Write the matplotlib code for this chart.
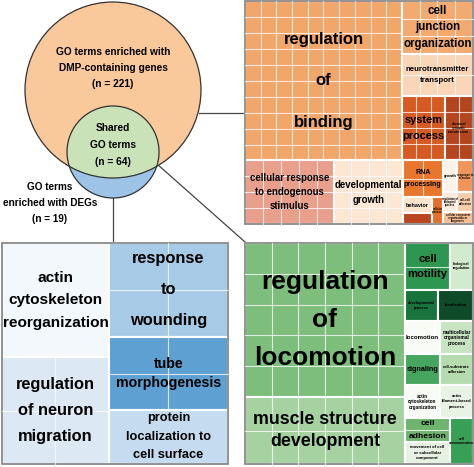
import matplotlib
matplotlib.use("Agg")
import matplotlib.pyplot as plt
from matplotlib.patches import Circle, Rectangle

plt.rcParams['font.family'] = ['Liberation Sans', 'DejaVu Sans']

# ---- Venn counts ----
venn_dmp_label = 'GO terms enriched with\nDMP-containing genes\n(n = 221)'
venn_shared_label = 'Shared\nGO terms\n(n = 64)'
venn_deg_label = 'GO terms\nenriched with DEGs\n(n = 19)'

# ---- orange treemap (DMP-only terms) ----
orange_terms = ['regulation\nof\nbinding', 'cell\njunction\norganization',
                'neurotransmitter\ntransport', 'system\nprocess',
                'chemical\nsynaptic\ntransmission',
                'cellular response\nto endogenous\nstimulus',
                'developmental\ngrowth', 'RNA\nprocessing', 'behavior', '',
                'cellular\nprocess', 'growth', 'response to\nstimulus',
                'regulation of\nbiological\nprocess', 'cell-cell\nadhesion',
                'cellular component\norganization or\nbiogenesis']
orange_sizes = [25120, 3763, 2982, 2795, 1820, 5696, 4352, 1480, 464, 319,
                297, 448, 512, 280, 320, 360]
orange_subgrid = [(10, 10), (4, 3), (4, 2), (3, 4), (2, 4), (5, 4), (4, 4),
                  (2, 2), (1, 1), (1, 1), (1, 1), (1, 1), (1, 1), (1, 1),
                  (1, 1), (1, 1)]
orange_tree = ('v', [('h', [0, ('v', [1, 2, ('h', [3, 4])])]),
                     ('h', [5, 6, ('h', [('v', [7, ('h', [('v', [8, 9]), 10])]),
                                         ('v', [('h', [11, 12]), ('h', [13, 14]), 15])])])])

# ---- green treemap (shared terms) ----
green_terms = ['regulation\nof\nlocomotion', 'muscle structure\ndevelopment',
               'cell\nmotility', 'biological\nregulation',
               'developmental\nprocess', 'localization', 'locomotion',
               'multicellular\norganismal\nprocess', 'signaling',
               'cell-substrate\nadhesion', 'actin\ncytoskeleton\norganization',
               'actin\nfilament-based\nprocess', 'cell\nadhesion',
               'movement of cell\nor subcellular\ncomponent', 'cell\ncommunication']
green_sizes = [24640, 10720, 2115, 1081, 1023, 1085, 1155, 1089, 1085, 1023,
               1155, 1089, 1080, 990, 1058]
green_subgrid = [(6, 5), (6, 2), (1, 2), (1, 1), (1, 1), (1, 1), (1, 1),
                 (1, 1), (1, 1), (1, 1), (1, 1), (1, 1), (1, 2), (1, 1), (1, 1)]
green_tree = ('h', [('v', [0, 1]),
                    ('v', [('h', [2, 3]), ('h', [4, 5]), ('h', [6, 7]),
                           ('h', [8, 9]), ('h', [10, 11]),
                           ('h', [('v', [12, 13]), 14])])])

# ---- blue treemap (DEG-only terms) ----
blue_terms = ['actin\ncytoskeleton\nreorganization', 'regulation\nof neuron\nmigration',
              'response\nto\nwounding', 'tube\nmorphogenesis',
              'protein\nlocalization to\ncell surface']
blue_sizes = [12198, 11449, 11186, 8687, 6426]
blue_subgrid = [(1, 1), (2, 2), (2, 2), (2, 2), (1, 1)]
blue_tree = ('h', [('v', [0, 1]), ('v', [2, 3, 4])])

# ---- styles ----
orange_colors = ['#F1A66A', '#F2AA70', '#FAD6B8', '#D65A22', '#B4461F', '#E8A08C',
                 '#FCE6D4', '#E8762D', '#FCE4CD', '#B9461E', '#E56E2A', '#FDF3EB',
                 '#F0965A', '#FCEBDC', '#F8CDAA', '#F6BE96']
orange_fs = [12, 8.3, 5.7, 7.9, 2.4, 6.9, 6.9, 5.1, 4.0, 2, 2.0, 2.8, 2.1, 1.9, 2.1, 1.9]
orange_gap = [41.5, 16.5, 11, 16, 4, 14, 15, 12, 0, 0, 3.5, 0, 3.5, 3, 3.5, 3]

green_colors = ['#7DBE7D', '#A5D2A0', '#2D9650', '#D2EBCD', '#19733C', '#0F4B28',
                '#F8FBF6', '#C8E4C3', '#46A55F', '#B4DCAF', '#F8FBF6', '#E8F3E4',
                '#6EB46E', '#E6F2E2', '#37A055']
green_fs = [19, 12.8, 8.1, 2.6, 2.8, 3.0, 4.4, 3.4, 5.25, 3.0, 3.3, 3.1, 6.1, 3.1, 2.4]
green_gap = [38, 23, 15, 4, 4.5, 0, 0, 5.5, 0, 5, 5.5, 5.5, 13, 5.5, 4]

blue_colors = ['#F3F8FC', '#DCE9F5', '#A7CBE6', '#5EA0D2', '#C5DCF0']
blue_fs = [11.1, 11.8, 11.8, 10.2, 9.2]
blue_gap = [22.5, 26.5, 31, 20, 18.5]


def node_total(node, sizes):
    if isinstance(node, int):
        return sizes[node]
    return sum(node_total(k, sizes) for k in node[1])


def layout(node, sizes, x, y, w, h, out):
    if isinstance(node, int):
        out[node] = (x, y, w, h)
        return
    d, kids = node
    tots = [node_total(k, sizes) for k in kids]
    s = float(sum(tots))
    pos = 0.0
    for k, t in zip(kids, tots):
        f = t / s
        if d == 'h':
            layout(k, sizes, x + pos * w, y, w * f, h, out)
        else:
            layout(k, sizes, x, y + pos * h, w, h * f, out)
        pos += f


def draw_label(ax, label, cx, cy, fs, gap):
    lines = label.split('\n')
    n = len(lines)
    for i, ln in enumerate(lines):
        ax.text(cx, cy + (i - (n - 1) / 2.0) * gap, ln, ha='center', va='center',
                fontsize=fs, fontweight='bold', color='black')


def treemap(ax, frame, tree, terms, sizes, grid, colors, fss, gaps):
    x0, y0, w0, h0 = frame
    rects = {}
    layout(tree, sizes, x0, y0, w0, h0, rects)
    for i in range(len(terms)):
        x, y, w, h = rects[i]
        ax.add_patch(Rectangle((x, y), w, h, facecolor=colors[i], edgecolor='none'))
        nc, nr = grid[i]
        for c in range(1, nc):
            ax.plot([x + w * c / nc] * 2, [y, y + h], color='white', lw=0.8, alpha=0.75)
        for r in range(1, nr):
            ax.plot([x, x + w], [y + h * r / nr] * 2, color='white', lw=0.8, alpha=0.75)
        ax.add_patch(Rectangle((x, y), w, h, facecolor='none', edgecolor='white', lw=1.5))
    for i in range(len(terms)):
        x, y, w, h = rects[i]
        if terms[i]:
            draw_label(ax, terms[i], x + w / 2, y + h / 2, fss[i], gaps[i])
    ax.add_patch(Rectangle((x0, y0), w0, h0, facecolor='none', edgecolor='#8a8a8a', lw=1.3))


fig = plt.figure(figsize=(4.74, 4.67), dpi=100)
ax = fig.add_axes([0, 0, 1, 1])
ax.set_xlim(0, 474)
ax.set_ylim(467, 0)
ax.axis('off')

# connectors
ax.plot([199, 245], [113, 113], color='#444444', lw=0.9, zorder=0)
ax.plot([157, 245], [164, 242], color='#444444', lw=0.9, zorder=0)
ax.plot([113, 113], [198, 243], color='#444444', lw=0.9, zorder=0)

# Venn
big = Circle((113, 90), 88, facecolor='#F9C89B', edgecolor='none')
ax.add_patch(big)
ax.add_patch(Circle((113, 152), 46, facecolor='#9DC3E6', edgecolor='none'))
shared = Circle((113, 152), 46, facecolor='#C9E2B8', edgecolor='none')
ax.add_patch(shared)
shared.set_clip_path(big)
ax.add_patch(Circle((113, 90), 88, facecolor='none', edgecolor='#333333', lw=0.9))
ax.add_patch(Circle((113, 152), 46, facecolor='none', edgecolor='#333333', lw=0.9))
draw_label(ax, venn_dmp_label, 113, 68, 7.3, 16)
draw_label(ax, venn_shared_label, 113, 145, 7.3, 17)
draw_label(ax, venn_deg_label, 50, 203, 7.2, 16.5)

treemap(ax, (245, 1, 228, 223), orange_tree, orange_terms, orange_sizes,
        orange_subgrid, orange_colors, orange_fs, orange_gap)
treemap(ax, (245, 243, 228, 221), green_tree, green_terms, green_sizes,
        green_subgrid, green_colors, green_fs, green_gap)
treemap(ax, (2, 243, 226, 221), blue_tree, blue_terms, blue_sizes,
        blue_subgrid, blue_colors, blue_fs, blue_gap)

fig.savefig('out.png', dpi=100)
